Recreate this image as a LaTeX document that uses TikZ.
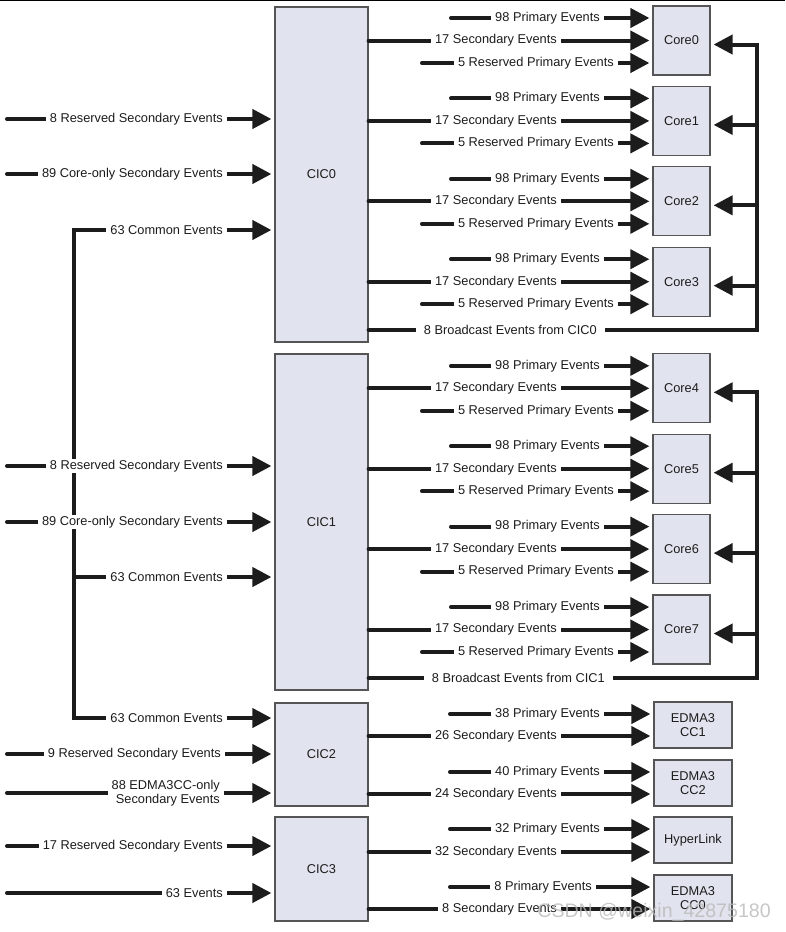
\documentclass[tikz,border=0pt]{standalone}
\usepackage{fontspec}
\setmainfont{Liberation Sans}
\usetikzlibrary{arrows.meta,calc}
\definecolor{boxfill}{RGB}{225,228,238}
\definecolor{boxdraw}{RGB}{85,85,85}
\definecolor{ink}{RGB}{28,28,28}
\tikzset{
  blk/.style={draw=boxdraw, fill=boxfill, line width=1.2pt, inner sep=0pt, align=center,
    font=\fontsize{12.8}{14.5}\selectfont, text=ink},
  evline/.style={draw=ink, line width=4pt, line cap=round, line join=miter},
  bigtip/.tip={Triangle[length=19pt,width=19pt]},
  evarrow/.style={evline, -bigtip, shorten >=3pt},
  evlbl/.style={fill=white, inner xsep=4pt, inner ysep=1pt, align=right,
    font=\fontsize{12.8}{13.5}\selectfont, text=ink},
}
% #1 name, #2 start x, #3 y, #4 target node (west side), #5 label right x, #6 label
\newcommand\evrow[6]{%
  \coordinate (#1-s) at (#2,{-(#3)});
  \draw[evarrow] (#1-s) -- (#4.west |- #1-s);
  \node[evlbl, anchor=east] (#1-l) at ({#5+4},{-(#3)}) {#6};
}
% #1 name, #2 source node (east side), #3 y, #4 target node, #5 label right x, #6 label
\newcommand\evfrom[6]{%
  \coordinate (#1-s) at (#2.east |- 0,{-(#3)});
  \draw[evarrow] (#1-s) -- (#4.west |- #1-s);
  \node[evlbl, anchor=east] (#1-l) at ({#5+4},{-(#3)}) {#6};
}
\begin{document}
\begin{tikzpicture}[x=1pt,y=1pt]
\useasboundingbox (0,0) rectangle (785,-932);
\draw[line width=1.2pt, black] (0,-0.6) -- (785,-0.6);

% CIC blocks
\node[blk, minimum width=93pt, minimum height=335pt] (cic0) at (321.5,-174.5) {CIC0};
\node[blk, minimum width=93pt, minimum height=336pt] (cic1) at (321.5,-522) {CIC1};
\node[blk, minimum width=93pt, minimum height=103pt] (cic2) at (321.5,-754.5) {CIC2};
\node[blk, minimum width=93pt, minimum height=104pt] (cic3) at (321.5,-869) {CIC3};

% Cores 0-3
\foreach \i in {0,1,2,3}{
  \pgfmathsetmacro\cy{40.5+80.4*\i}
  \node[blk, minimum width=57pt, minimum height=69pt] (core\i) at (681.5,-\cy) {Core\i};
  \evrow{p\i}{451}{\cy-22.5}{core\i}{600}{98 Primary Events}
  \evfrom{s\i}{cic0}{\cy}{core\i}{557}{17 Secondary Events}
  \evrow{r\i}{422}{\cy+22.5}{core\i}{614}{5 Reserved Primary Events}
}
% Cores 4-7
\foreach \i in {4,5,6,7}{
  \pgfmathsetmacro\cy{388.3+80.4*(\i-4)}
  \node[blk, minimum width=57pt, minimum height=69pt] (core\i) at (681.5,-\cy) {Core\i};
  \evrow{p\i}{451}{\cy-22.5}{core\i}{600}{98 Primary Events}
  \evfrom{s\i}{cic1}{\cy}{core\i}{557}{17 Secondary Events}
  \evrow{r\i}{422}{\cy+22.5}{core\i}{614}{5 Reserved Primary Events}
}

% Broadcast buses
\coordinate (bc0) at (757,-330);
\coordinate (bt0) at (757,-44.5);
\draw[evarrow] (cic0.east |- bc0) -- (bc0) -- (bt0) -- (core0.east |- bt0);
\foreach \i in {1,2,3}{
  \pgfmathsetmacro\cy{44.5+80.4*\i}
  \coordinate (bb\i) at (757,-\cy);
  \draw[evarrow] (bb\i) -- (core\i.east |- bb\i);
}
\node[evlbl, inner xsep=8pt, anchor=east] (bl0) at (605,-330) {8 Broadcast Events from CIC0};

\coordinate (bc1) at (757,-678);
\coordinate (bt1) at (757,-392.3);
\draw[evarrow] (cic1.east |- bc1) -- (bc1) -- (bt1) -- (core4.east |- bt1);
\foreach \i in {5,6,7}{
  \pgfmathsetmacro\cy{392.3+80.4*(\i-4)}
  \coordinate (bb\i) at (757,-\cy);
  \draw[evarrow] (bb\i) -- (core\i.east |- bb\i);
}
\node[evlbl, inner xsep=8pt, anchor=east] (bl1) at (613,-678) {8 Broadcast Events from CIC1};

% EDMA / HyperLink blocks
\node[blk, minimum width=78pt, minimum height=46pt] (cc1) at (693,-725) {EDMA3\\CC1};
\node[blk, minimum width=78pt, minimum height=46pt] (cc2) at (693,-783) {EDMA3\\CC2};
\node[blk, minimum width=78pt, minimum height=46pt] (hl) at (693,-840) {HyperLink};
\node[blk, minimum width=78pt, minimum height=46pt] (cc0) at (693,-898) {EDMA3\\CC0};

\evrow{pe1}{450}{714}{cc1}{600}{38 Primary Events}
\evfrom{se1}{cic2}{736}{cc1}{557}{26 Secondary Events}
\evrow{pe2}{450}{772}{cc2}{600}{40 Primary Events}
\evfrom{se2}{cic2}{794}{cc2}{557}{24 Secondary Events}
\evrow{ph}{450}{829}{hl}{600}{32 Primary Events}
\evfrom{sh}{cic3}{852}{hl}{557}{32 Secondary Events}
\evrow{pe0}{450}{887}{cc0}{592}{8 Primary Events}
\evfrom{se0}{cic3}{909}{cc0}{557}{8 Secondary Events}

% Common events bus (drawn first so labels cover it)
\coordinate (busT) at (74,-230);
\coordinate (busM) at (74,-577);
\coordinate (busB) at (74,-718);
\draw[evline, bigtip-bigtip, shorten <=3pt, shorten >=3pt]
  (cic2.west |- busB) -- (busB) -- (busT) -- (cic0.west |- busT);
\draw[evarrow] (busM) -- (cic1.west |- busM);
\node[evlbl, anchor=east] (c0l) at (227,-230) {63 Common Events};
\node[evlbl, anchor=east] (c1l) at (227,-577) {63 Common Events};
\node[evlbl, anchor=east] (c2l) at (227,-718) {63 Common Events};

% Left inputs
\evrow{i0a}{7}{119}{cic0}{223}{8 Reserved Secondary Events}
\evrow{i0b}{7}{174}{cic0}{223}{89 Core-only Secondary Events}
\evrow{i1a}{7}{466}{cic1}{223}{8 Reserved Secondary Events}
\evrow{i1b}{7}{522}{cic1}{223}{89 Core-only Secondary Events}
\evrow{i2a}{7}{754}{cic2}{221}{9 Reserved Secondary Events}
\evrow{i2b}{7}{793}{cic2}{220}{88 EDMA3CC-only\\Secondary Events}
\evrow{i3a}{7}{846}{cic3}{223}{17 Reserved Secondary Events}
\evrow{i3b}{7}{893}{cic3}{223}{63 Events}

% watermark
\node[text=gray!55, opacity=0.8, font=\fontsize{19.6}{22}\selectfont, anchor=east, inner sep=0pt] (wm) at (771,-912) {CSDN @weixin\_42875180};
\end{tikzpicture}
\end{document}
